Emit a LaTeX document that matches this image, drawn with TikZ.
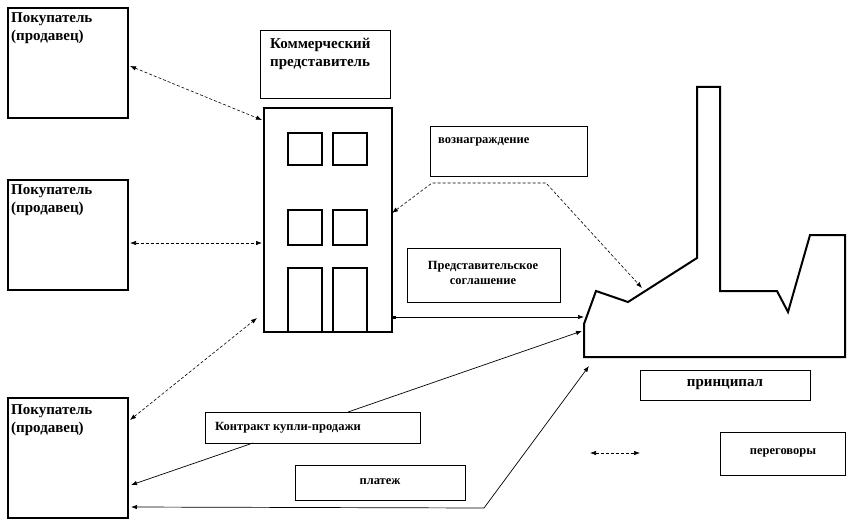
\documentclass[tikz,border=0pt]{standalone}
\usepackage{fontspec}
\setmainfont{Liberation Serif}
\usetikzlibrary{arrows.meta}
\begin{document}
\begin{tikzpicture}[x=1pt,y=-1pt,
  thickbox/.style={draw,line width=2pt},
  thinbox/.style={draw,line width=0.6pt},
  lbl/.style={font=\bfseries\fontsize{12.5}{15}\selectfont,align=center,inner sep=0},
  big/.style={font=\bfseries\fontsize{15}{18}\selectfont,align=left,anchor=north west,inner sep=0},
  dot/.style={densely dashed,line width=0.6pt,{Latex[length=6pt]}-{Latex[length=6pt]}},
  arr/.style={line width=0.7pt,-{Latex[length=6pt]}}]
\useasboundingbox (0,0) rectangle (850,524);
% buyers
\draw[thickbox] (8,8) rectangle (128,118);
\node[big] (t1) at (11,12) {Покупатель\\(продавец)};
\draw[thickbox] (8,180) rectangle (128,290);
\node[big] (t2) at (11,184) {Покупатель\\(продавец)};
\draw[thickbox] (8,398) rectangle (128,518);
\node[big] (t3) at (11,404) {Покупатель\\(продавец)};
% representative
\draw[thinbox] (260,30) rectangle (390,98);
\node[big] (rep) at (270,38) {Коммерческий\\представитель};
\draw[thickbox] (264,108) rectangle (392,332);
\foreach \x in {288,333}{
 \draw[line width=1.6pt] (\x,133) rectangle ++(34,32);
 \draw[line width=1.6pt] (\x,210) rectangle ++(34,35);
 \draw[line width=1.6pt] (\x,268) rectangle ++(34,64);}
% reward
\draw[thinbox] (430,126) rectangle (587,176);
\node[lbl,anchor=west] (rew) at (438,142) {вознаграждение};
\coordinate (b1) at (392,213);
\coordinate (f1) at (642,288);
\draw[dot] (b1) -- (432,183) -- (546,183) -- (f1);
% agreement
\draw[thinbox] (407,248) rectangle (560,302);
\node[lbl] (agr) at (483,273) {Представительское\\соглашение};
\coordinate (b2) at (393,317);
\coordinate (f2) at (584,317);
\draw[line width=0.7pt,{Square[length=3pt]}-{Latex[length=6pt]}] (b2) -- (f2);
% factory
\draw[line width=2pt,line join=miter] (584,357) -- (584,324) -- (596,291) -- (628,302) -- (697,258) -- (697,87) -- (720,87) -- (720,291) -- (777,291) -- (788,312) -- (810,235) -- (845,235) -- (845,357) -- cycle;
\draw[thinbox] (640,370) rectangle (810,400);
\node[lbl,font=\bfseries\fontsize{15}{17}\selectfont] (pr) at (725,385) {принципал};
% negotiations
\coordinate (n1) at (590,453);
\coordinate (n2) at (640,453);
\draw[dot] (n1) -- (n2);
\draw[thinbox] (720,432) rectangle (845,475);
\node[lbl] (neg) at (783,453) {переговоры};
% buyer links
\coordinate (a1) at (130,66); \coordinate (a2) at (262,120);
\draw[dot] (a1) -- (a2);
\coordinate (c1) at (130,243); \coordinate (c2) at (262,243);
\draw[dot] (c1) -- (c2);
\coordinate (d1) at (130,420); \coordinate (d2) at (257,318);
\draw[dot] (d1) -- (d2);
% contract
\draw[thinbox] (205,412) rectangle (420,443);
\node[lbl,anchor=west] (con) at (215,428) {Контракт купли-продажи};
\coordinate (k1) at (348,412); \coordinate (k2) at (582,331);
\draw[arr] (k1) -- (k2);
\coordinate (k3) at (253,443); \coordinate (k4) at (131,485);
\draw[arr] (k3) -- (k4);
% payment
\draw[thinbox] (295,465) rectangle (465,500);
\node[lbl] (pay) at (380,482) {платеж};
\coordinate (p1) at (589,366); \coordinate (p2) at (131,507);
\draw[line width=0.7pt,{Latex[length=6pt]}-{Latex[length=6pt]}] (p2) -- (484,508) -- (p1);
\end{tikzpicture}
\end{document}
